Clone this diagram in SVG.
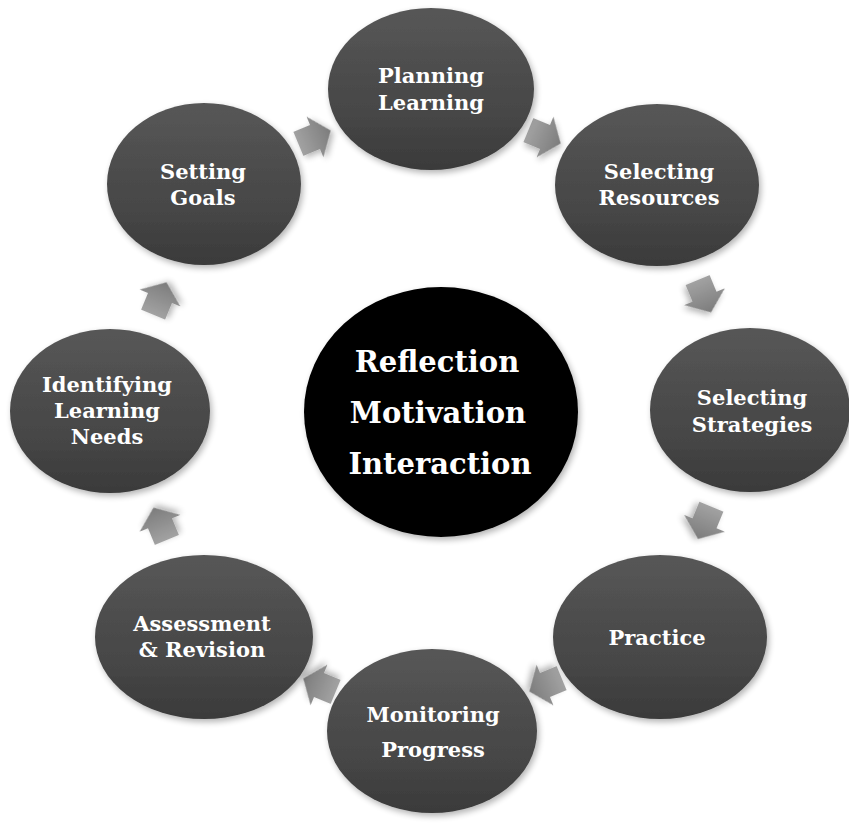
<svg xmlns="http://www.w3.org/2000/svg" xmlns:xlink="http://www.w3.org/1999/xlink" width="849" height="823" viewBox="0 0 849 823">
<defs>
<linearGradient id="nodeFill" x1="0" y1="0" x2="0" y2="1">
<stop offset="0" stop-color="#575757"/>
<stop offset="0.7" stop-color="#454545"/>
<stop offset="1" stop-color="#3a3a3a"/>
</linearGradient>
<linearGradient id="arrowFill" x1="0" y1="0" x2="1" y2="0">
<stop offset="0" stop-color="#a2a2a2"/>
<stop offset="1" stop-color="#7c7c7c"/>
</linearGradient>
<filter id="shadow" x="-20%" y="-20%" width="140%" height="140%">
<feGaussianBlur in="SourceAlpha" stdDeviation="3"/>
<feOffset dx="2" dy="3" result="b"/>
<feComponentTransfer><feFuncA type="linear" slope="0.3"/></feComponentTransfer>
<feMerge><feMergeNode/><feMergeNode in="SourceGraphic"/></feMerge>
</filter>
<path id="arrow" d="M-18,-13 L0,-13 L0,-22 L17,0 L0,22 L0,13 L-18,13 Z"/>
</defs>
<style>
.node { fill: url(#nodeFill); filter: url(#shadow); }
.hub { fill: #000000; filter: url(#shadow); }
.lbl { font-family: "DejaVu Serif", "Liberation Serif", serif; font-weight: bold; font-size: 21px; fill: #ffffff; text-anchor: middle; }
.hubl { font-family: "DejaVu Serif", "Liberation Serif", serif; font-weight: bold; font-size: 29px; fill: #ffffff; text-anchor: middle; }
.arr { fill: url(#arrowFill); filter: url(#shadow); }
</style>
<rect width="849" height="823" fill="#ffffff"/>

<g id="connectors">
<use xlink:href="#arrow" class="arr" transform="translate(315,137) rotate(-22.5)"/>
<use xlink:href="#arrow" class="arr" transform="translate(545,137) rotate(22.5)"/>
<use xlink:href="#arrow" class="arr" transform="translate(704.5,296.7) rotate(67.5)"/>
<use xlink:href="#arrow" class="arr" transform="translate(704.5,523.3) rotate(112.5)"/>
<use xlink:href="#arrow" class="arr" transform="translate(545,685) rotate(157.5)"/>
<use xlink:href="#arrow" class="arr" transform="translate(319,685) rotate(202.5)"/>
<use xlink:href="#arrow" class="arr" transform="translate(160,523.3) rotate(247.5)"/>
<use xlink:href="#arrow" class="arr" transform="translate(160,298) rotate(292.5)"/>
</g>

<g id="node-planning">
<ellipse class="node" cx="431" cy="89" rx="103" ry="81"/>
<text class="lbl" x="431" y="83">Planning</text>
<text class="lbl" x="431" y="110">Learning</text>
</g>
<g id="node-resources">
<ellipse class="node" cx="657" cy="185" rx="102" ry="81"/>
<text class="lbl" x="659" y="179">Selecting</text>
<text class="lbl" x="659" y="205">Resources</text>
</g>
<g id="node-strategies">
<ellipse class="node" cx="750" cy="410" rx="100" ry="82"/>
<text class="lbl" x="752" y="405">Selecting</text>
<text class="lbl" x="752" y="432">Strategies</text>
</g>
<g id="node-practice">
<ellipse class="node" cx="660" cy="637" rx="107" ry="82"/>
<text class="lbl" x="657" y="645">Practice</text>
</g>
<g id="node-monitoring">
<ellipse class="node" cx="432" cy="731" rx="105" ry="82"/>
<text class="lbl" x="433" y="722">Monitoring</text>
<text class="lbl" x="433" y="757">Progress</text>
</g>
<g id="node-assessment">
<ellipse class="node" cx="204" cy="637" rx="109" ry="82"/>
<text class="lbl" x="202" y="631">Assessment</text>
<text class="lbl" x="202" y="657">&amp; Revision</text>
</g>
<g id="node-identifying">
<ellipse class="node" cx="110" cy="411" rx="100" ry="82"/>
<text class="lbl" x="107" y="392">Identifying</text>
<text class="lbl" x="107" y="418">Learning</text>
<text class="lbl" x="107" y="444">Needs</text>
</g>
<g id="node-goals">
<ellipse class="node" cx="204" cy="184" rx="97" ry="81"/>
<text class="lbl" x="203" y="179">Setting</text>
<text class="lbl" x="203" y="205">Goals</text>
</g>
<g id="node-center">
<ellipse class="hub" cx="441" cy="412" rx="137" ry="125"/>
<text class="hubl" x="437" y="372">Reflection</text>
<text class="hubl" x="438" y="423">Motivation</text>
<text class="hubl" x="440" y="474">Interaction</text>
</g>
</svg>
